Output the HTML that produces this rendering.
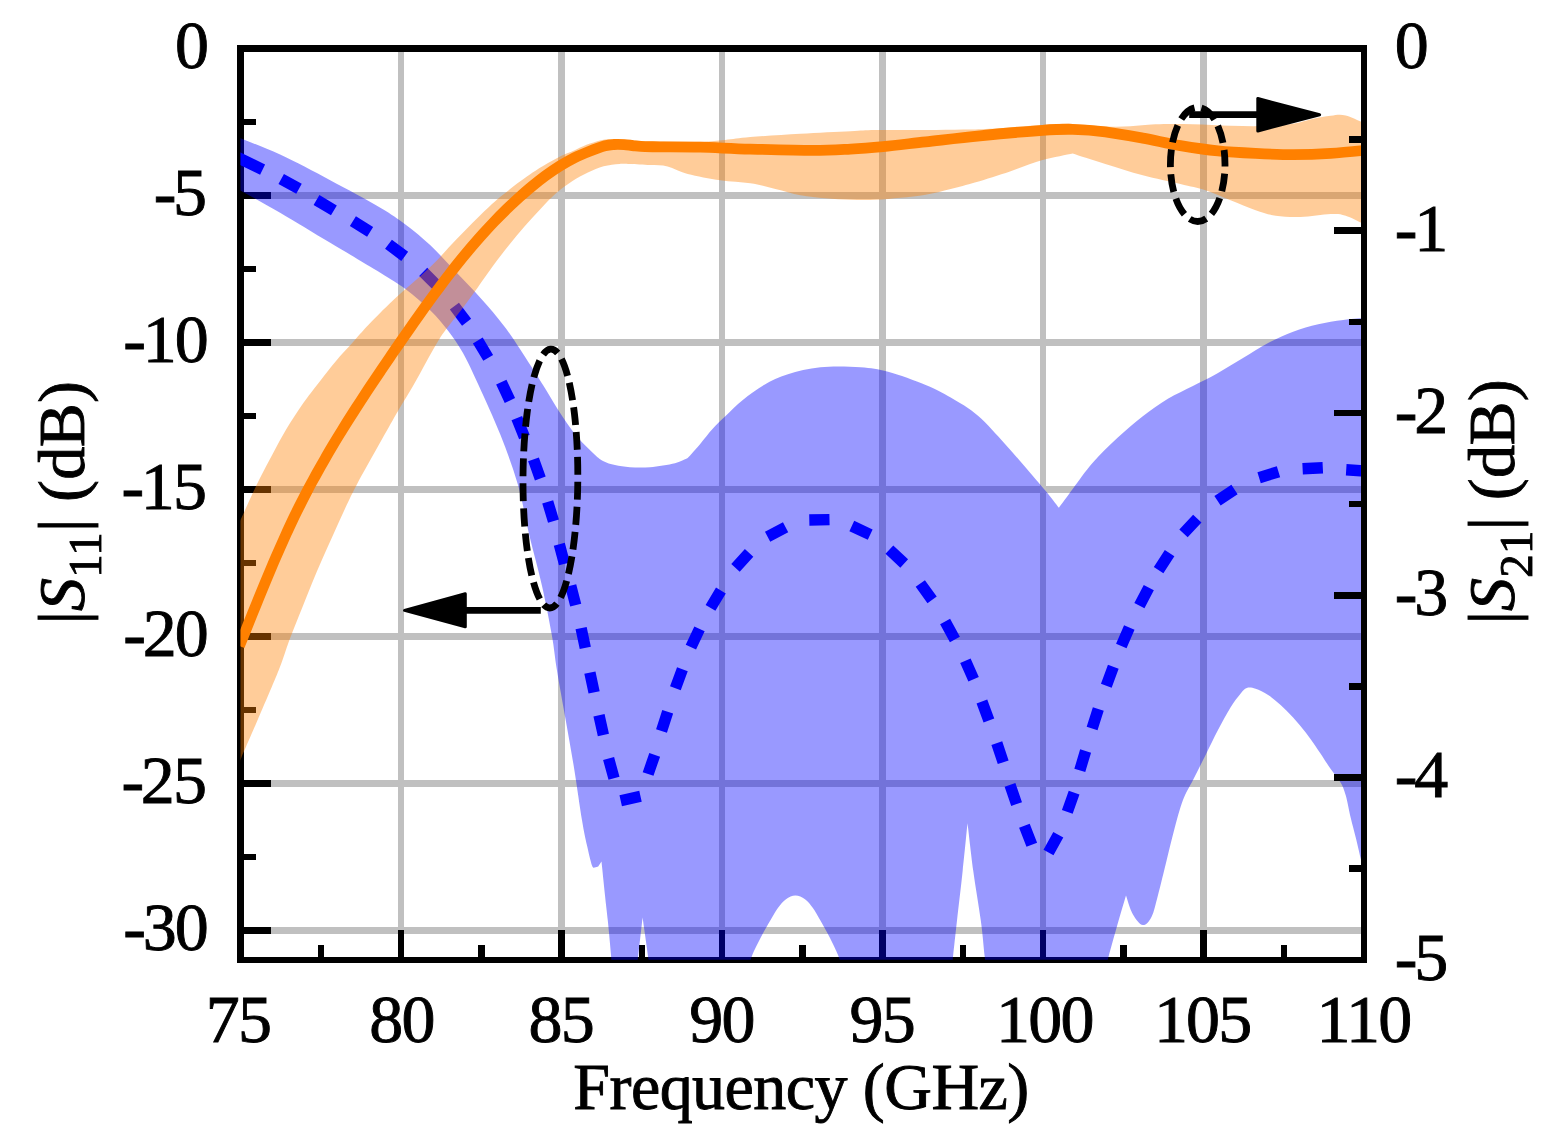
<!DOCTYPE html>
<html lang="en"><head><meta charset="utf-8"><title>S-parameters plot</title>
<style>html,body{margin:0;padding:0;background:#fff}body{width:1557px;height:1140px;overflow:hidden}svg{display:block}text{font-family:"Liberation Serif","DejaVu Serif",serif;fill:#000}</style></head><body>
<svg width="1557" height="1140" viewBox="0 0 1557 1140">
<rect width="1557" height="1140" fill="#fff"/>
<defs><clipPath id="pc"><rect x="240.5" y="48.4" width="1123.5" height="911.4"/></clipPath></defs>
<g stroke="#c0c0c0" shape-rendering="crispEdges"><line x1="401.0" y1="48.4" x2="401.0" y2="959.8" stroke-width="6.5"/><line x1="561.5" y1="48.4" x2="561.5" y2="959.8" stroke-width="6.5"/><line x1="722.0" y1="48.4" x2="722.0" y2="959.8" stroke-width="6.5"/><line x1="882.5" y1="48.4" x2="882.5" y2="959.8" stroke-width="6.5"/><line x1="1043.0" y1="48.4" x2="1043.0" y2="959.8" stroke-width="6.5"/><line x1="1203.5" y1="48.4" x2="1203.5" y2="959.8" stroke-width="6.5"/><line x1="240.5" y1="195.4" x2="1364.0" y2="195.4" stroke-width="6.5"/><line x1="240.5" y1="342.4" x2="1364.0" y2="342.4" stroke-width="6.5"/><line x1="240.5" y1="489.4" x2="1364.0" y2="489.4" stroke-width="6.5"/><line x1="240.5" y1="636.4" x2="1364.0" y2="636.4" stroke-width="6.5"/><line x1="240.5" y1="783.4" x2="1364.0" y2="783.4" stroke-width="6.5"/><line x1="240.5" y1="930.4" x2="1364.0" y2="930.4" stroke-width="6.5"/></g>
<g stroke="#000" stroke-width="6.6" shape-rendering="crispEdges"><line x1="240.5" y1="45.1" x2="240.5" y2="962.7" stroke-width="7"/><line x1="240.5" y1="48.4" x2="1366.9" y2="48.4" stroke-width="6.7"/><line x1="237.0" y1="959.8" x2="1364.0" y2="959.8" stroke-width="5.8"/><line x1="320.8" y1="959.8" x2="320.8" y2="944.6"/><line x1="401.0" y1="959.8" x2="401.0" y2="929.8"/><line x1="481.2" y1="959.8" x2="481.2" y2="944.6"/><line x1="561.5" y1="959.8" x2="561.5" y2="929.8"/><line x1="641.8" y1="959.8" x2="641.8" y2="944.6"/><line x1="722.0" y1="959.8" x2="722.0" y2="929.8"/><line x1="802.2" y1="959.8" x2="802.2" y2="944.6"/><line x1="882.5" y1="959.8" x2="882.5" y2="929.8"/><line x1="962.8" y1="959.8" x2="962.8" y2="944.6"/><line x1="1043.0" y1="959.8" x2="1043.0" y2="929.8"/><line x1="1123.2" y1="959.8" x2="1123.2" y2="944.6"/><line x1="1203.5" y1="959.8" x2="1203.5" y2="929.8"/><line x1="1283.8" y1="959.8" x2="1283.8" y2="944.6"/><line x1="240.5" y1="121.9" x2="255.7" y2="121.9"/><line x1="240.5" y1="195.4" x2="270.5" y2="195.4"/><line x1="240.5" y1="268.9" x2="255.7" y2="268.9"/><line x1="240.5" y1="342.4" x2="270.5" y2="342.4"/><line x1="240.5" y1="415.9" x2="255.7" y2="415.9"/><line x1="240.5" y1="489.4" x2="270.5" y2="489.4"/><line x1="240.5" y1="562.9" x2="255.7" y2="562.9"/><line x1="240.5" y1="636.4" x2="270.5" y2="636.4"/><line x1="240.5" y1="709.9" x2="255.7" y2="709.9"/><line x1="240.5" y1="783.4" x2="270.5" y2="783.4"/><line x1="240.5" y1="856.9" x2="255.7" y2="856.9"/><line x1="240.5" y1="930.4" x2="270.5" y2="930.4"/></g>
<g clip-path="url(#pc)">
<path d="M236.0 136.5C236.7 136.8 232.7 135.1 240.0 138.1C247.3 141.1 265.1 147.6 280.1 154.6C295.1 161.6 313.5 171.3 330.2 180.2C346.9 189.0 367.8 200.3 380.3 207.7C392.8 215.1 397.0 218.2 405.4 224.5C413.8 230.8 422.0 237.5 430.4 245.3C438.8 253.2 447.1 262.8 455.5 271.6C463.9 280.4 472.1 288.5 480.5 297.9C488.9 307.3 497.2 316.7 505.6 328.0C514.0 339.3 524.4 356.0 530.6 365.5C536.8 375.0 538.4 377.6 543.0 385.0C547.6 392.4 552.8 401.6 558.2 410.0C563.7 418.4 569.9 427.9 575.7 435.1C581.5 442.3 588.5 448.7 593.0 453.0C597.5 457.3 599.3 459.0 603.0 461.0C606.7 463.0 610.5 464.0 615.0 465.0C619.5 466.0 624.2 466.8 630.0 467.2C635.8 467.6 642.5 467.9 650.0 467.2C657.5 466.5 668.7 464.7 675.0 463.2C681.3 461.7 685.6 459.0 687.7 458.1C689.8 455.7 696.0 448.8 700.2 443.9C704.4 439.0 708.5 433.4 712.7 428.8C716.9 424.2 720.3 421.1 725.3 416.3C730.3 411.5 736.3 405.2 742.8 400.0C749.2 394.8 756.5 389.3 764.0 385.0C771.5 380.7 778.5 377.2 787.9 374.3C797.3 371.4 808.3 368.5 820.4 367.3C832.5 366.1 849.2 366.6 860.5 367.3C871.8 368.1 877.2 368.9 888.1 371.8C899.0 374.8 915.3 380.7 925.7 385.0C936.1 389.3 942.0 392.4 950.7 397.5C959.4 402.6 969.0 408.0 978.0 415.7C987.0 423.4 996.3 434.4 1005.0 443.9C1013.7 453.4 1023.4 465.0 1030.1 472.7C1036.8 480.4 1040.3 484.4 1045.1 490.2C1049.9 496.0 1056.6 504.8 1058.9 507.7C1061.2 504.6 1067.1 496.5 1072.7 489.0C1078.3 481.5 1085.2 471.3 1092.7 462.7C1100.2 454.1 1109.5 445.3 1117.8 437.6C1126.1 429.9 1134.4 422.8 1142.8 416.3C1151.2 409.8 1159.6 403.9 1167.9 398.8C1176.2 393.8 1184.6 390.3 1192.9 386.0C1201.2 381.7 1209.7 377.7 1218.0 373.0C1226.3 368.3 1234.7 363.0 1243.0 358.0C1251.3 353.0 1259.8 347.4 1268.1 343.0C1276.4 338.6 1284.8 334.8 1293.1 331.7C1301.4 328.6 1309.8 326.2 1318.2 324.2C1326.6 322.2 1334.9 321.0 1343.2 319.9C1351.5 318.8 1363.9 318.1 1368.0 317.8L1368.0 890.0C1366.8 884.9 1362.8 867.8 1360.8 859.1C1358.8 850.4 1357.5 844.7 1355.8 837.8C1354.1 830.9 1352.4 824.9 1350.7 817.8C1349.0 810.7 1347.4 801.1 1345.7 795.3C1344.0 789.4 1343.2 787.1 1340.7 782.7C1338.2 778.3 1334.5 774.4 1330.7 769.0C1327.0 763.6 1322.4 756.3 1318.2 750.2C1314.0 744.1 1309.9 738.0 1305.7 732.6C1301.5 727.2 1297.3 722.2 1293.1 717.6C1288.9 713.0 1284.8 708.9 1280.6 705.1C1276.4 701.3 1272.3 697.7 1268.1 695.0C1263.9 692.3 1259.1 690.0 1255.6 688.8C1252.0 687.6 1249.3 687.2 1246.8 688.0C1244.3 688.8 1243.2 690.5 1240.5 693.8C1237.8 697.1 1234.2 701.5 1230.5 707.6C1226.8 713.7 1222.2 722.2 1218.0 730.1C1213.8 738.0 1209.7 746.9 1205.5 755.2C1201.3 763.6 1196.7 772.7 1192.9 780.2C1189.1 787.7 1186.0 791.9 1182.9 800.3C1179.8 808.6 1176.8 820.3 1174.1 830.3C1171.4 840.3 1169.3 849.5 1166.6 860.4C1163.9 871.3 1160.4 886.1 1157.9 895.5C1155.4 904.9 1154.1 911.8 1151.6 916.7C1149.1 921.6 1145.9 925.4 1142.8 925.0C1139.7 924.6 1135.6 919.1 1132.8 914.2C1130.0 909.3 1127.1 898.6 1126.0 895.5C1124.4 900.9 1119.3 918.1 1116.5 928.0C1113.7 937.9 1110.6 949.0 1109.0 955.0C1107.4 961.0 1107.3 962.5 1107.0 964.0C1086.7 964.0 1005.7 964.0 985.4 964.0C985.2 962.5 985.3 962.2 984.5 955.0C983.7 947.8 982.7 934.6 980.8 920.5C978.9 906.4 975.4 886.6 973.2 870.4C971.0 854.2 968.5 831.1 967.5 823.3C966.7 831.1 964.5 854.2 962.7 870.4C961.0 886.6 958.6 906.4 957.0 920.5C955.4 934.6 954.0 947.8 953.2 955.0C952.4 962.2 952.5 962.5 952.4 964.0C933.8 964.0 859.6 964.0 841.0 964.0C840.5 962.5 839.8 959.3 838.0 955.0C836.2 950.7 832.9 943.8 830.0 938.0C827.1 932.2 823.2 925.5 820.4 920.5C817.5 915.5 815.5 911.5 812.9 908.0C810.3 904.5 807.9 901.3 805.0 899.2C802.1 897.1 798.6 895.5 795.4 895.5C792.2 895.5 788.9 897.1 786.0 899.2C783.1 901.3 780.5 904.5 777.9 908.0C775.3 911.5 773.2 915.5 770.3 920.5C767.4 925.5 763.5 932.2 760.5 938.0C757.5 943.8 754.1 950.7 752.3 955.0C750.5 959.3 750.0 962.5 749.5 964.0C732.8 964.0 665.9 964.0 649.2 964.0C648.1 956.2 643.7 925.2 642.6 917.5C641.7 925.2 638.2 956.2 637.3 964.0C633.0 964.0 615.9 964.0 611.6 964.0C611.5 962.5 611.6 962.2 611.0 955.0C610.4 947.8 608.8 930.4 607.8 920.5C606.8 910.6 606.0 905.3 605.0 895.5C604.0 885.7 602.1 867.2 601.5 861.6C601.0 862.4 598.8 865.8 598.2 866.6C597.7 866.8 595.5 867.4 595.0 867.5C594.5 867.1 593.3 869.1 592.0 865.4C590.7 861.7 588.7 852.9 587.0 845.4C585.3 837.9 584.1 832.8 582.0 820.3C579.9 807.8 577.1 786.9 574.4 770.2C571.7 753.5 568.6 736.8 565.7 720.1C562.8 703.4 559.2 684.1 556.9 670.0C554.6 655.9 554.4 649.6 551.9 635.5C549.4 621.4 545.7 602.1 541.9 585.4C538.1 568.7 533.3 552.0 529.3 535.3C525.3 518.6 522.9 501.9 518.1 485.2C513.3 468.5 507.1 451.8 500.5 435.1C493.9 418.4 484.8 398.7 478.5 385.0C472.2 371.3 468.1 362.1 463.0 353.0C457.9 343.9 453.3 337.6 447.9 330.5C442.5 323.4 437.5 317.3 430.4 310.4C423.3 303.5 413.8 295.4 405.4 289.1C397.0 282.8 392.8 280.5 380.3 272.8C367.8 265.1 346.9 252.8 330.2 242.8C313.5 232.8 295.1 221.5 280.1 212.7C265.1 203.9 247.3 194.3 240.0 190.2C232.7 186.1 236.7 188.4 236.0 188.0Z" fill="#0000ff" fill-opacity="0.4"/>
<path d="M281.2 179.0L299.0 188.8M316.5 200.0L333.9 210.4M352.9 221.1L370.1 231.9M388.5 244.2L404.7 256.4M423.2 271.9L437.6 286.3M454.4 306.1L466.6 322.3M477.8 340.5L488.2 357.9M501.3 382.1L509.9 400.5M516.8 418.2L524.4 437.0M533.5 459.3L540.3 478.5M547.7 501.8L553.5 521.2M559.3 544.3L564.5 563.9M570.7 585.6L575.7 605.2M581.1 628.1L585.3 647.9M589.9 672.6L594.1 692.4M599.0 715.2L603.4 735.0M608.6 758.6L614.0 778.2M620.7 800.7L640.5 796.3M648.1 774.0L654.7 754.8M661.5 731.1L667.7 711.7M675.4 688.3L682.4 669.3M690.9 647.2L699.5 628.8M710.5 607.9L720.9 590.5M735.5 567.9L749.1 552.9M767.6 536.7L785.6 527.3M809.3 520.0L829.5 519.6M851.8 526.0L870.2 534.6M889.4 549.7L904.2 563.5M920.3 583.5L932.1 599.9M945.1 621.6L954.9 639.4M965.4 660.7L973.6 679.3M981.9 701.5L988.9 720.5M996.8 743.1L1003.2 762.3M1010.0 784.9L1016.6 804.1M1024.4 825.8L1031.8 844.8M1048.5 852.5L1058.3 834.7M1067.3 811.9L1074.1 792.7M1079.8 770.4L1085.6 751.0M1092.1 728.5L1098.3 709.1M1106.3 685.8L1113.3 666.8M1121.3 646.1L1129.3 627.5M1139.4 605.7L1148.8 587.7M1158.6 570.1L1169.6 553.1M1183.5 533.4L1197.3 518.6M1217.5 500.8L1234.5 489.6M1259.1 477.7L1278.5 471.7M1302.6 468.7L1322.8 467.7M236 156.6L262.6 169.6M1346.2 469.8L1368 471.2" fill="none" stroke="#0000ff" stroke-width="11.4"/>
<path d="M236.0 530.0C236.7 528.5 238.9 523.5 240.0 521.0C241.1 518.5 241.4 518.1 242.8 515.1C244.2 512.1 245.5 509.0 248.3 502.8C251.2 496.6 255.8 486.4 259.9 478.2C264.0 470.0 268.4 461.9 272.8 453.7C277.2 445.5 281.5 437.3 286.4 429.1C291.3 420.9 297.3 411.8 302.3 404.6C307.3 397.4 310.6 393.2 316.2 386.0C321.8 378.8 329.6 368.6 335.6 361.4C341.6 354.2 346.7 349.1 352.2 343.0C357.7 336.9 361.9 331.8 368.8 324.6C375.7 317.4 383.2 309.6 393.4 300.0C403.6 290.4 419.7 277.2 430.0 267.3C440.3 257.4 447.3 248.8 455.3 240.5C463.3 232.2 470.4 224.9 478.0 217.5C485.6 210.1 491.9 203.8 501.0 196.3C510.1 188.8 523.4 178.9 532.6 172.6C541.8 166.3 549.1 162.2 556.3 158.4C563.5 154.6 570.1 152.2 575.7 149.7C581.3 147.2 585.1 145.3 590.0 143.6C594.9 141.9 599.2 140.1 605.0 139.4C610.8 138.7 617.5 139.1 625.0 139.4C632.5 139.7 637.5 140.9 650.0 141.3C662.5 141.7 687.7 142.0 700.2 141.8C712.7 141.6 716.6 140.8 725.0 140.0C733.4 139.2 737.7 138.1 750.3 137.1C762.9 136.1 783.7 134.8 800.4 133.8C817.1 132.8 838.0 131.9 850.5 131.3C863.0 130.7 863.1 130.3 875.6 130.1C888.1 129.9 911.1 130.2 925.7 130.1C940.3 130.0 952.5 129.8 963.2 129.6C973.9 129.4 976.8 129.6 990.0 128.8C1003.2 128.0 1028.8 125.7 1042.6 124.9C1056.4 124.1 1062.2 123.7 1072.7 123.9C1083.2 124.2 1095.7 126.0 1105.3 126.4C1114.9 126.8 1121.9 126.7 1130.3 126.3C1138.7 125.9 1145.0 124.6 1155.4 124.3C1165.8 124.0 1180.4 124.0 1192.9 124.3C1205.4 124.5 1218.5 125.5 1230.5 125.8C1242.5 126.1 1254.6 126.3 1265.0 126.0C1275.4 125.7 1285.1 125.0 1293.1 123.8C1301.1 122.6 1306.9 120.1 1313.2 118.8C1319.5 117.5 1325.3 116.3 1330.7 115.8C1336.1 115.2 1339.5 114.0 1345.7 115.5C1351.9 117.0 1364.3 123.4 1368.0 125.0L1368.0 226.0C1364.3 224.3 1351.9 217.7 1345.7 215.7C1339.5 213.7 1338.2 213.8 1330.7 214.0C1323.2 214.2 1309.8 216.7 1300.6 217.0C1291.4 217.3 1283.1 216.8 1275.6 215.7C1268.1 214.6 1263.1 212.8 1255.6 210.2C1248.1 207.6 1238.8 203.5 1230.5 200.2C1222.2 196.9 1213.8 192.9 1205.5 190.2C1197.2 187.5 1190.9 186.4 1180.4 183.9C1170.0 181.4 1155.3 178.5 1142.8 175.2C1130.3 171.9 1117.0 167.5 1105.3 163.9C1093.6 160.3 1078.1 155.2 1072.7 153.4C1067.7 154.5 1053.0 157.1 1042.6 160.1C1032.1 163.1 1021.1 167.7 1010.0 171.4C998.9 175.1 985.7 179.3 975.8 182.2C965.9 185.1 959.1 186.8 950.7 188.9C942.4 191.0 934.1 193.2 925.7 194.7C917.4 196.2 909.0 196.9 900.6 197.7C892.2 198.5 884.0 199.4 875.6 199.7C867.2 200.0 858.9 199.9 850.5 199.7C842.1 199.4 833.9 198.9 825.5 198.2C817.1 197.4 808.8 196.8 800.4 195.2C792.0 193.6 783.8 190.9 775.4 188.9C767.0 186.9 759.5 184.6 750.3 183.2C741.1 181.8 730.6 181.8 720.2 180.2C709.8 178.6 696.5 176.2 687.7 173.9C678.9 171.6 673.9 167.9 667.6 166.4C661.3 164.9 656.4 165.5 650.1 165.1C643.8 164.7 635.1 164.1 630.0 163.9C624.9 163.7 623.8 163.5 619.4 163.9C615.0 164.3 608.9 164.9 603.6 166.3C598.4 167.8 593.1 170.1 587.9 172.6C582.6 175.1 577.4 177.9 572.1 181.3C566.8 184.7 561.6 188.5 556.3 193.1C551.0 197.7 545.8 203.4 540.5 208.9C535.2 214.4 530.0 220.2 524.7 226.3C519.4 232.4 514.2 238.6 508.9 245.2C503.6 251.8 498.4 258.7 493.1 265.8C487.9 272.9 482.6 280.7 477.4 287.9C472.2 295.1 467.4 301.9 462.0 309.0C456.6 316.1 449.2 325.0 445.0 330.7C440.8 336.4 440.1 337.9 437.0 343.0C433.9 348.1 430.5 354.2 426.5 361.4C422.5 368.6 417.7 377.8 413.0 386.0C408.3 394.2 403.5 401.6 398.3 410.6C393.1 419.6 388.7 427.4 381.7 439.8C374.7 452.2 362.7 473.5 356.5 485.2C350.3 496.9 348.3 501.8 344.4 510.0C340.5 518.2 337.0 526.4 333.3 534.6C329.6 542.8 325.9 550.9 322.3 559.1C318.7 567.3 315.2 575.5 311.8 583.7C308.4 591.9 305.3 600.0 302.0 608.2C298.7 616.4 294.9 625.9 292.2 632.8C289.5 639.7 288.2 643.6 286.0 649.8C283.8 656.0 283.5 658.3 278.8 670.0C274.1 681.7 263.9 705.5 257.6 720.1C251.4 734.7 244.2 750.7 241.3 757.7C238.4 764.7 240.9 759.6 240.0 762.0C239.1 764.4 236.7 770.3 236.0 772.0Z" fill="#ff8000" fill-opacity="0.4"/>
<path d="M239.4 646.0C240.5 643.2 243.9 634.9 246.1 629.4C248.3 623.9 250.5 618.4 252.7 613.0C254.9 607.6 257.1 602.2 259.3 596.8C261.5 591.4 263.7 586.1 265.9 580.8C268.1 575.5 270.3 570.2 272.5 565.0C274.7 559.8 277.0 554.6 279.3 549.4C281.6 544.2 283.9 539.0 286.2 533.9C288.5 528.8 290.9 523.7 293.3 518.6C295.7 513.5 298.3 508.5 300.8 503.5C303.3 498.5 305.9 493.5 308.5 488.5C311.1 483.5 313.9 478.6 316.6 473.6C319.4 468.7 322.2 463.7 325.0 458.8C327.8 453.9 330.7 449.0 333.6 444.1C336.5 439.2 339.5 434.4 342.5 429.5C345.5 424.6 348.5 419.8 351.6 415.0C354.7 410.2 357.8 405.4 360.9 400.6C364.0 395.8 367.1 391.0 370.3 386.2C373.5 381.4 376.7 376.6 379.9 371.9C383.1 367.1 386.4 362.4 389.6 357.7C392.9 352.9 396.1 348.1 399.4 343.4C402.7 338.7 405.9 334.0 409.2 329.3C412.5 324.6 415.9 319.8 419.2 315.1C422.5 310.4 425.8 305.8 429.2 301.1C432.6 296.5 436.1 291.8 439.5 287.2C442.9 282.6 446.4 278.0 449.9 273.5C453.4 269.0 457.0 264.4 460.6 260.0C464.2 255.6 467.9 251.2 471.6 246.8C475.3 242.5 479.1 238.1 482.9 233.9C486.7 229.7 490.6 225.5 494.5 221.4C498.4 217.3 502.5 213.2 506.6 209.2C510.7 205.2 514.9 201.3 519.1 197.5C523.4 193.7 527.7 189.9 532.1 186.3C536.5 182.7 541.0 179.1 545.6 175.7C550.2 172.3 554.8 169.1 559.6 166.1C564.4 163.1 569.3 160.3 574.3 157.8C579.3 155.3 584.5 153.2 589.6 151.2C594.7 149.2 600.9 146.9 605.0 145.8C609.1 144.7 610.8 144.7 614.0 144.5C617.2 144.3 620.7 144.4 624.0 144.6C627.3 144.8 630.5 145.5 634.0 145.8C637.5 146.1 640.7 146.4 645.0 146.6C649.3 146.8 650.8 146.7 660.0 146.8C669.2 146.9 685.2 146.8 700.2 147.2C715.2 147.6 731.5 148.6 750.3 149.1C769.1 149.6 796.2 150.4 812.9 150.4C829.6 150.4 838.8 149.7 850.5 149.1C862.2 148.5 870.6 147.8 883.1 146.6C895.6 145.4 909.6 143.6 925.7 141.8C941.9 140.0 960.5 137.7 980.0 135.8C999.5 133.9 1027.1 131.4 1042.6 130.3C1058.0 129.2 1062.2 129.1 1072.7 129.3C1083.2 129.6 1093.6 130.3 1105.3 131.8C1117.0 133.3 1130.3 135.8 1142.8 138.1C1155.3 140.4 1167.9 143.5 1180.4 145.6C1192.9 147.7 1205.5 149.6 1218.0 150.9C1230.5 152.2 1243.1 152.8 1255.6 153.4C1268.1 154.0 1280.6 154.6 1293.1 154.6C1305.6 154.6 1318.2 154.2 1330.7 153.4C1343.2 152.6 1361.8 150.6 1368.0 150.0" fill="none" stroke="#ff8000" stroke-width="10.8" stroke-linejoin="round"/>
</g>
<g stroke="#000" stroke-width="6.6" shape-rendering="crispEdges"><line x1="1364.0" y1="45.1" x2="1364.0" y2="962.7" stroke-width="5.8"/><line x1="1364.0" y1="139.5" x2="1348.8" y2="139.5"/><line x1="1364.0" y1="230.7" x2="1334.0" y2="230.7"/><line x1="1364.0" y1="321.8" x2="1348.8" y2="321.8"/><line x1="1364.0" y1="413.0" x2="1334.0" y2="413.0"/><line x1="1364.0" y1="504.1" x2="1348.8" y2="504.1"/><line x1="1364.0" y1="595.2" x2="1334.0" y2="595.2"/><line x1="1364.0" y1="686.4" x2="1348.8" y2="686.4"/><line x1="1364.0" y1="777.5" x2="1334.0" y2="777.5"/><line x1="1364.0" y1="868.7" x2="1348.8" y2="868.7"/></g>

<g fill="none" stroke="#000" stroke-width="6.8" stroke-dasharray="17.8 7.1">
<path d="M550.4 608A27.4 129.4 0 1 1 550.41 608" transform="rotate(0.3 550.4 478.6)" stroke-dashoffset="10.8"/>
<ellipse cx="1197.7" cy="164.5" rx="27.3" ry="57" stroke-dashoffset="15.75"/>
</g>
<g stroke="#000" stroke-width="6.8" fill="#000">
<line x1="540.8" y1="610.4" x2="460" y2="610.4"/>
<line x1="1189.2" y1="114.7" x2="1260" y2="114.7"/>
</g>
<g fill="#000" stroke="#000" stroke-width="3" stroke-linejoin="round">
<path d="M404.5 610.4L465.3 593.8L465.3 626.8Z"/>
<path d="M1319.6 114.7L1257.8 98.5L1257.8 131Z"/>
</g>

<g font-size="68" stroke="#000" stroke-width="0.90"><text transform="translate(205.8 1042.3) scale(1 1.005)" letter-spacing="-1.8">75</text><text transform="translate(369.2 1042.3) scale(1 1.005)" letter-spacing="-1.8">80</text><text transform="translate(528.6 1042.3) scale(1 1.005)" letter-spacing="-1.8">85</text><text transform="translate(689.3 1042.3) scale(1 1.005)" letter-spacing="-1.8">90</text><text transform="translate(849.6 1042.3) scale(1 1.005)" letter-spacing="-1.8">95</text><text transform="translate(996.0 1042.3) scale(1 1.005)" letter-spacing="-1.8">100</text><text transform="translate(1153.9 1042.3) scale(1 1.005)" letter-spacing="-1.8">105</text><text transform="translate(1316.4 1042.3) scale(1 1.005)" letter-spacing="-1.8">110</text><text transform="translate(174.9 68.3) scale(1 1.005)" letter-spacing="-1.8">0</text><text transform="translate(153.7 215.3) scale(1 1.005)" letter-spacing="-1.8" dx="0 -1.5">-5</text><text transform="translate(123.3 362.3) scale(1 1.005)" letter-spacing="-1.8" dx="0 -1.5">-10</text><text transform="translate(121.5 509.3) scale(1 1.005)" letter-spacing="-1.8" dx="0 -1.5">-15</text><text transform="translate(123.3 656.3) scale(1 1.005)" letter-spacing="-1.8" dx="0 -1.5">-20</text><text transform="translate(121.5 803.3) scale(1 1.005)" letter-spacing="-1.8" dx="0 -1.5">-25</text><text transform="translate(123.3 950.3) scale(1 1.005)" letter-spacing="-1.8" dx="0 -1.5">-30</text><text transform="translate(1394.7 68.3) scale(1 1.005)" letter-spacing="-1.8">0</text><text transform="translate(1394.8 250.6) scale(1 1.005)" letter-spacing="-1.8" dx="0 -1.5">-1</text><text transform="translate(1394.8 432.9) scale(1 1.005)" letter-spacing="-1.8" dx="0 -1.5">-2</text><text transform="translate(1394.8 615.1) scale(1 1.005)" letter-spacing="-1.8" dx="0 -1.5">-3</text><text transform="translate(1394.8 797.4) scale(1 1.005)" letter-spacing="-1.8" dx="0 -1.5">-4</text><text transform="translate(1394.8 979.7) scale(1 1.005)" letter-spacing="-1.8" dx="0 -1.5">-5</text><text font-size="66" x="573.3" y="1109" letter-spacing="-0.55">Frequency (GHz)</text><text font-size="66" transform="translate(83.6 624.3) rotate(-90)" letter-spacing="0.2">|<tspan font-style="italic">S</tspan><tspan font-size="47" dy="17.5">11</tspan><tspan dy="-17.5" dx="0 0 0 0 -0.8">| (dB)</tspan></text><text font-size="66" transform="translate(1514.0 624.3) rotate(-90)" letter-spacing="0.2">|<tspan font-style="italic">S</tspan><tspan font-size="47" dy="17.5">21</tspan><tspan dy="-17.5" dx="0 0 0 0 -0.8">| (dB)</tspan></text></g>
</svg></body></html>
